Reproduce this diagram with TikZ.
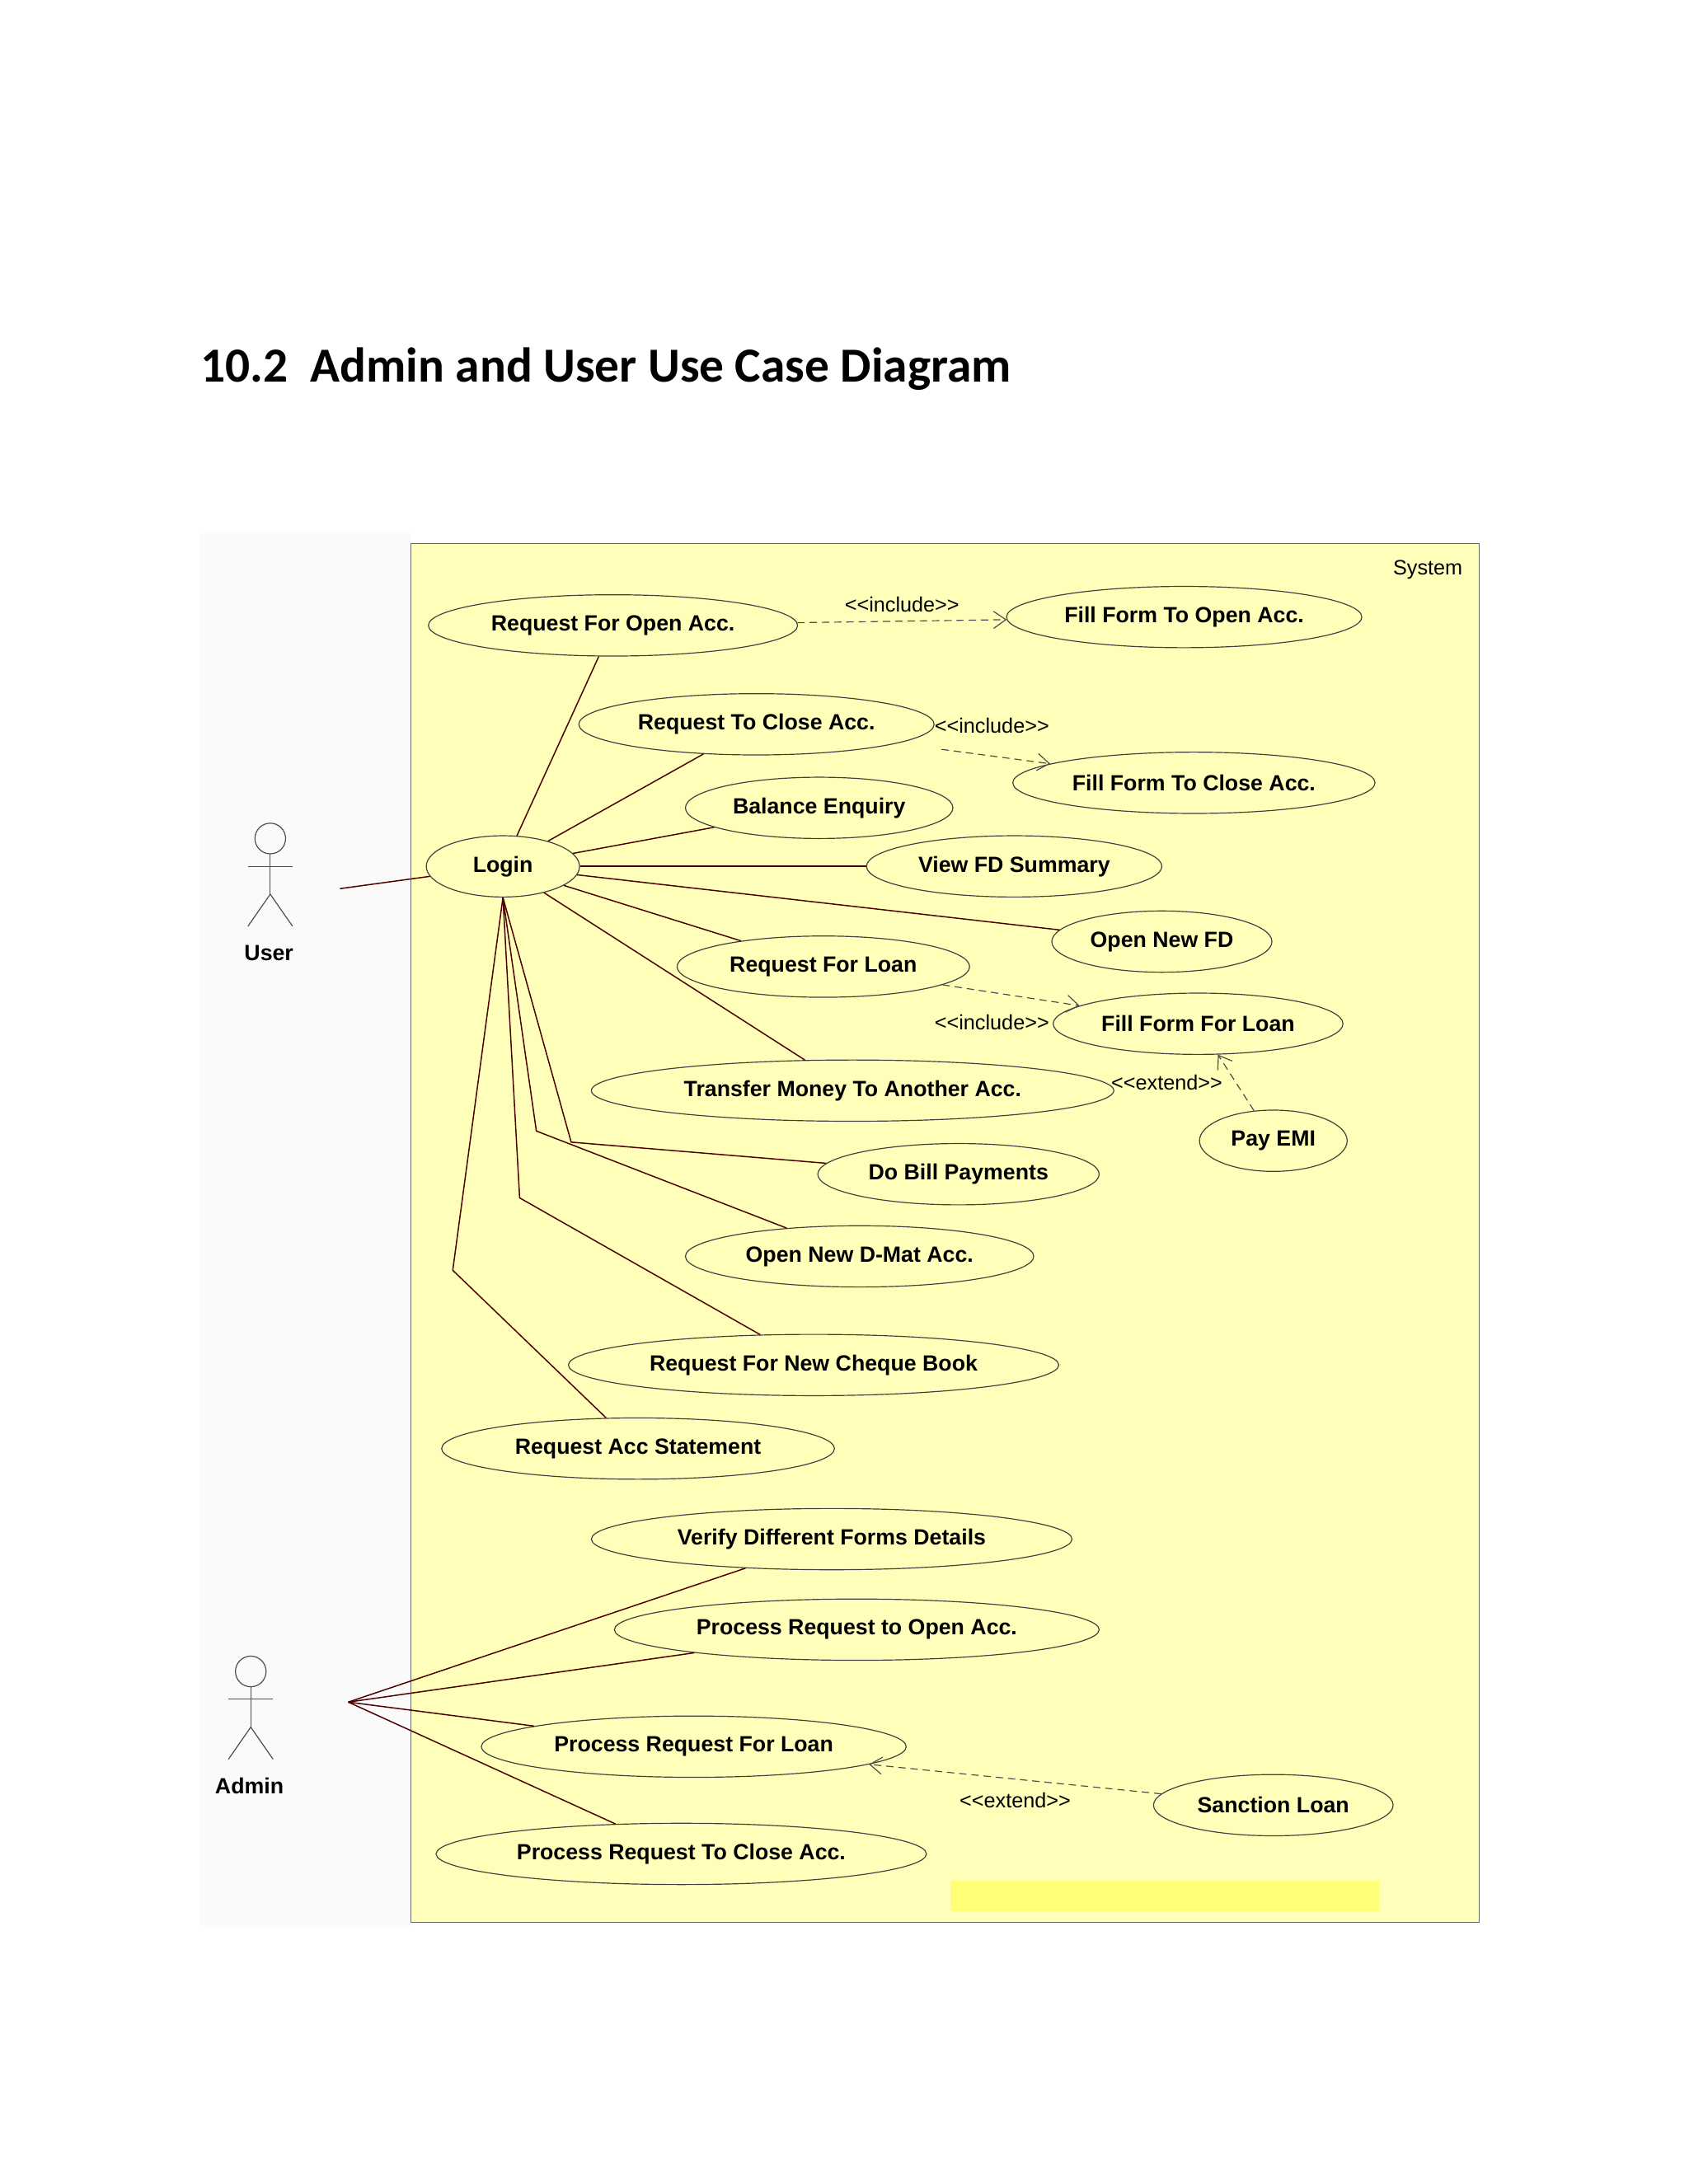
\documentclass[tikz,border=0pt]{standalone}
\usepackage{fontspec}
\setmainfont{Carlito}
\newfontfamily\ucfont{Liberation Sans}
\usetikzlibrary{shapes.geometric,arrows.meta}
\definecolor{sysyellow}{RGB}{255,255,185}
\definecolor{hiyellow}{RGB}{255,255,120}
\tikzset{
    uc/.style={
        ellipse, draw=black!75, fill=sysyellow, inner sep=0pt,
        minimum height=0.88cm, font=\ucfont\bfseries\fontsize{9}{10}\selectfont
    },
    assoc/.style={draw=black!70!red, line width=0.5pt},
    dep/.style={draw=black!70, densely dashed, -{Straight Barb[length=5pt,width=7pt]}},
    stereo/.style={font=\ucfont\fontsize{8.5}{10}\selectfont}
}
\newcommand{\usecase}[5] {
	\node[uc, minimum width=#4*0.02cm] (#1) at (#2,#3) {#5};
}
\newcommand{\actor}[4] {
	\draw[black!70] (#2,#3-20) circle [radius=11*0.02cm];
	\draw[black!70] (#2,#3-9) -- (#2,#3+20);
	\draw[black!70] (#2-16,#3) -- (#2+16,#3);
	\draw[black!70] (#2-16,#3+43) -- (#2,#3+20) -- (#2+16,#3+43);
	\node[font=\ucfont\bfseries\fontsize{9}{10}\selectfont] (#1) at (#2-1,#3+62) {#4};
}
\begin{document}
\begin{tikzpicture}[x=0.02cm, y=-0.02cm]
		\useasboundingbox (0,0) rectangle (1212,1568);
		\fill[white] (0,0) rectangle (1212,1568);

		% Title
		\node[anchor=west, font=\bfseries\fontsize{20}{24}\selectfont] (title) at (138,265) {10.2\ \ Admin and User Use Case Diagram};

		% System frame
		\fill[black!2] (143,383) rectangle (295,1383);
		\draw[black!60, fill=sysyellow] (295,390) rectangle (1062,1380);
		\fill[hiyellow] (682,1350) rectangle (990,1372);
		\node[anchor=north east, stereo] (sys) at (1056,396) {System};

		% Actors
		\actor{user}{194}{622}{User}
		\actor{admin}{180}{1220}{Admin}

		% Use cases
		\usecase{openacc}{440}{449}{265}{Request For Open Acc.}
		\usecase{formopen}{850}{443}{255}{Fill Form To Open Acc.}
		\usecase{closeacc}{543}{520}{255}{Request To Close Acc.}
		\usecase{formclose}{857}{562}{260}{Fill Form To Close Acc.}
		\usecase{balance}{588}{580}{192}{Balance Enquiry}
		\usecase{login}{361}{622}{110}{Login}
		\usecase{viewfd}{728}{622}{212}{View FD Summary}
		\usecase{openfd}{834}{676}{158}{Open New FD}
		\usecase{loan}{591}{694}{210}{Request For Loan}
		\usecase{formloan}{860}{735}{208}{Fill Form For Loan}
		\usecase{transfer}{612}{783}{375}{Transfer Money To Another Acc.}
		\usecase{payemi}{914}{819}{106}{Pay EMI}
		\usecase{bill}{688}{843}{202}{Do Bill Payments}
		\usecase{dmat}{617}{902}{250}{Open New D-Mat Acc.}
		\usecase{cheque}{584}{980}{352}{Request For New Cheque Book}
		\usecase{statement}{458}{1040}{282}{Request Acc Statement}
		\usecase{verify}{597}{1105}{345}{Verify Different Forms Details}
		\usecase{procopen}{615}{1170}{348}{Process Request to Open Acc.}
		\usecase{procloan}{498}{1254}{305}{Process Request For Loan}
		\usecase{sanction}{914}{1296}{172}{Sanction Loan}
		\usecase{procclose}{489}{1331}{352}{Process Request To Close Acc.}

		% User associations
		\coordinate (userhand) at (244,638);
		\draw[assoc] (userhand) -- (login);
		\draw[assoc] (login) -- (openacc);
		\draw[assoc] (login) -- (closeacc);
		\draw[assoc] (login) -- (balance);
		\draw[assoc] (login) -- (viewfd);
		\draw[assoc] (login) -- (openfd);
		\draw[assoc] (login) -- (loan);
		\draw[assoc] (login) -- (transfer);
		\draw[assoc] (login.south) -- (410,820) -- (bill);
		\draw[assoc] (login.south) -- (385,812) -- (dmat);
		\draw[assoc] (login.south) -- (373,860) -- (cheque);
		\draw[assoc] (login.south) -- (325,912) -- (statement);

		% Admin associations
		\coordinate (adminhand) at (250,1222);
		\draw[assoc] (adminhand) -- (verify);
		\draw[assoc] (adminhand) -- (procopen);
		\draw[assoc] (adminhand) -- (procloan);
		\draw[assoc] (adminhand) -- (procclose);

		% Include / extend
		\draw[dep] (openacc) -- node[above, stereo] {<<include>>} (formopen);
		\draw[dep] (closeacc.east) ++(5,18) coordinate (c1) (c1) -- (formclose);
		\node[stereo] (inc2) at (712,521) {<<include>>};
		\draw[dep] (loan) -- (formloan);
		\node[stereo] (inc3) at (712,734) {<<include>>};
		\draw[dep] (payemi) -- node[left=2pt, stereo] {<<extend>>} (formloan);
		\draw[dep] (sanction) -- node[below=2pt, stereo] {<<extend>>} (procloan);
	\end{tikzpicture}
\end{document}
